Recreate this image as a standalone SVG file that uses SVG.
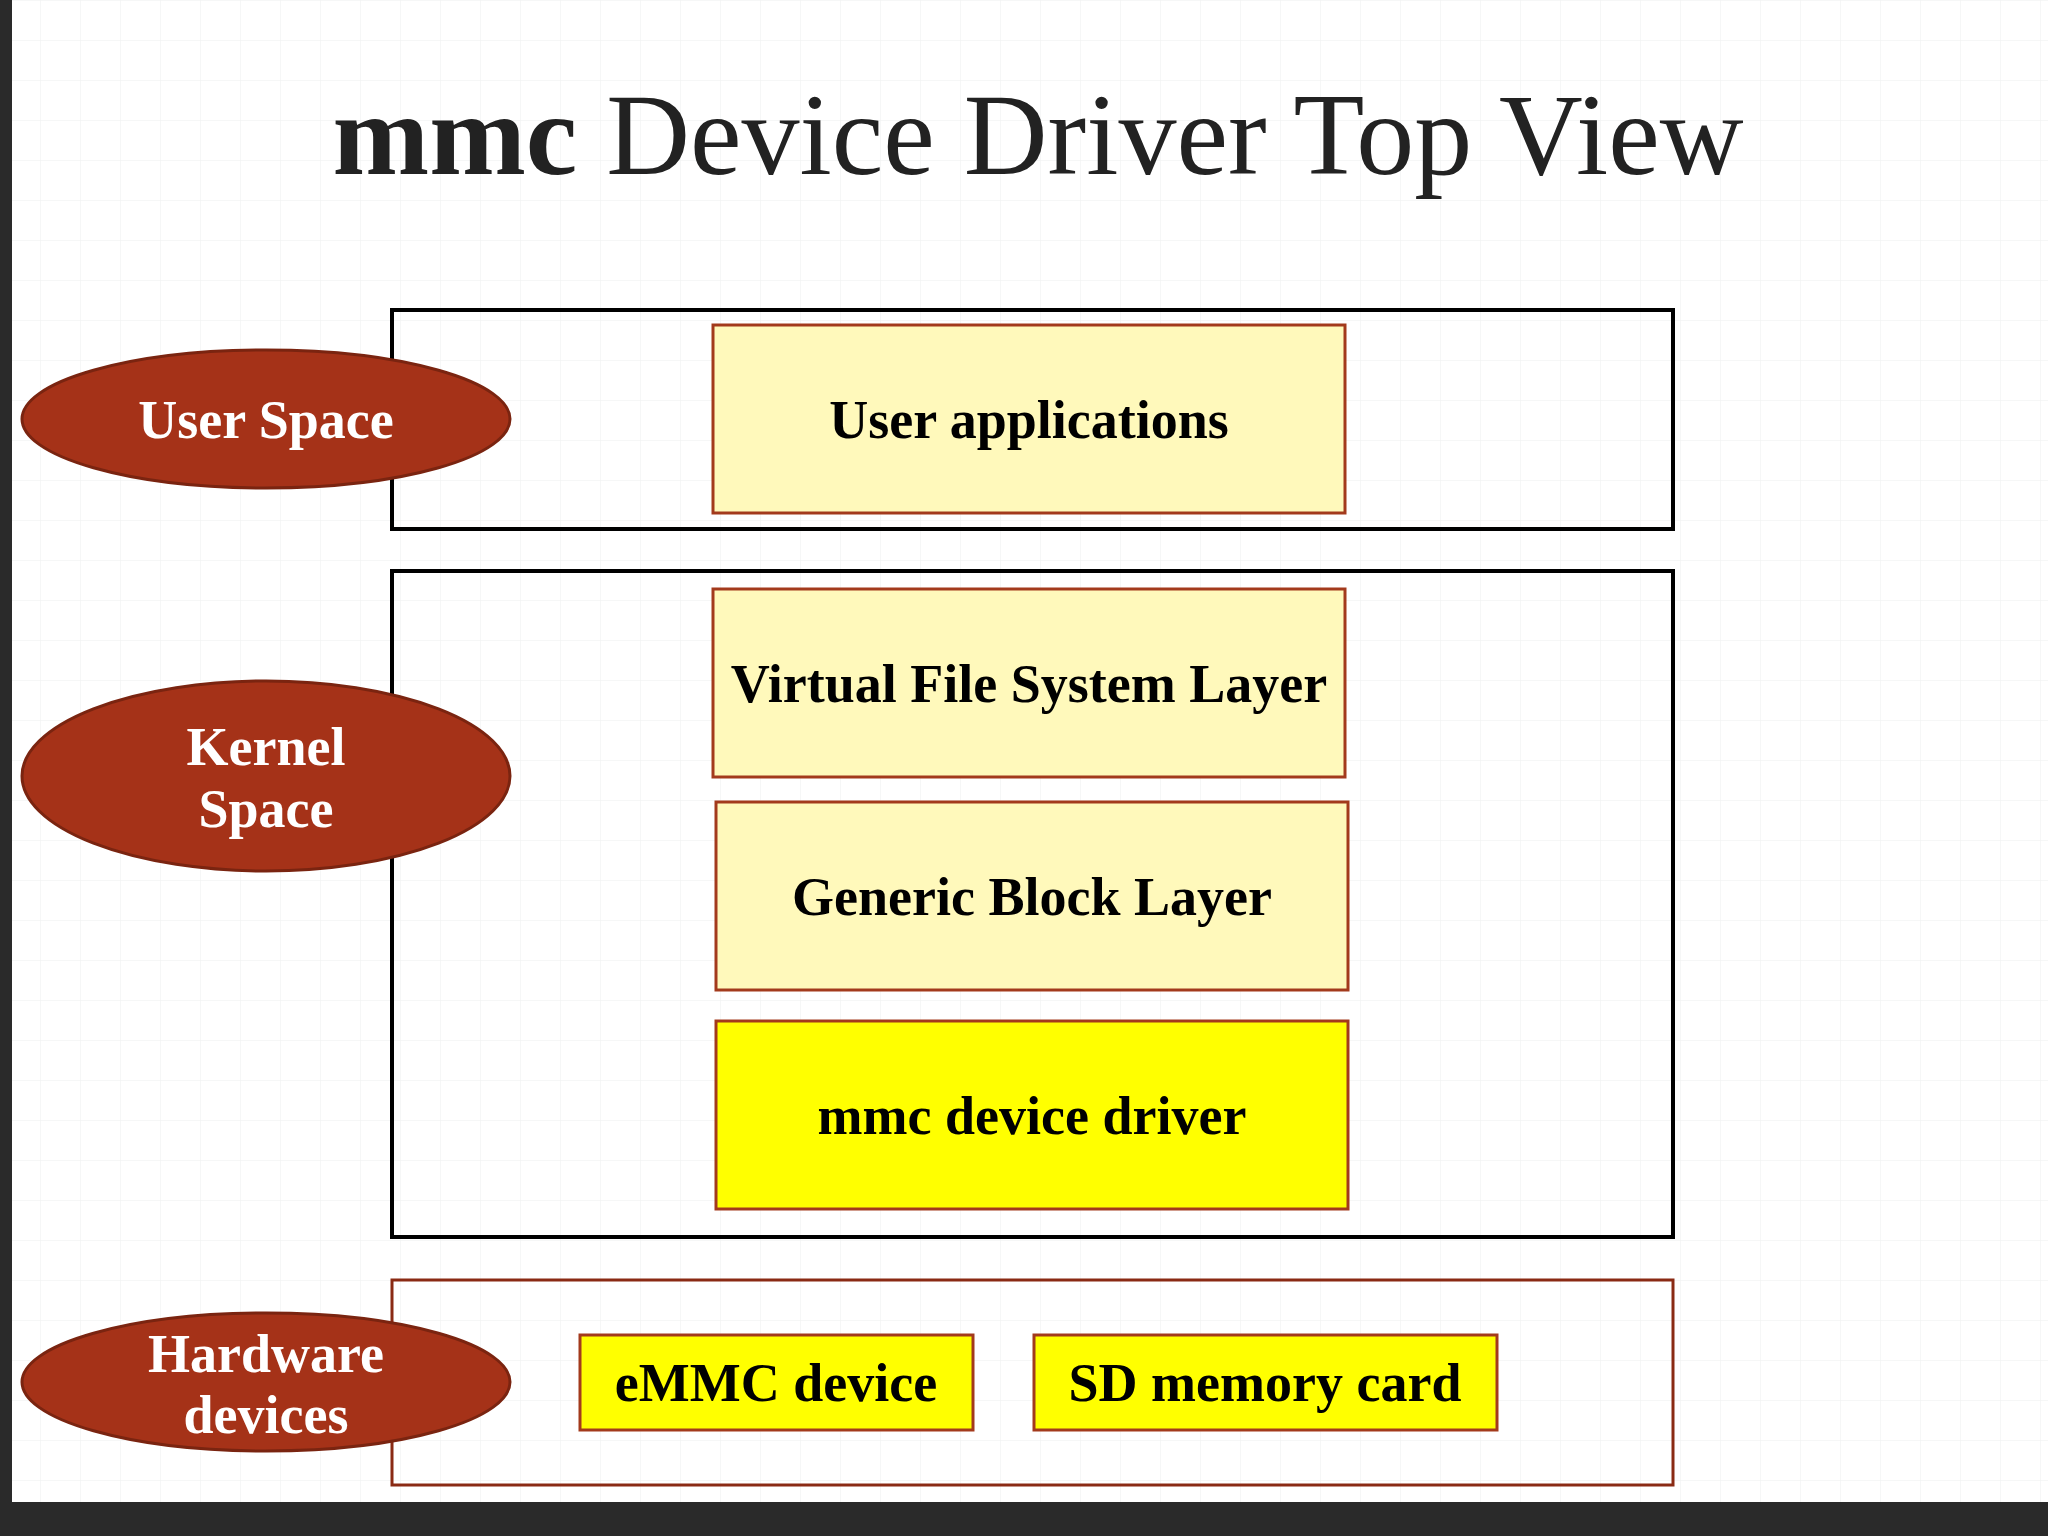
<svg xmlns="http://www.w3.org/2000/svg" width="2048" height="1536" viewBox="0 0 2048 1536">
<style>
.frame{fill:none;stroke:#000;stroke-width:4}
.pale{fill:#fff9bb;stroke:#a33a1c;stroke-width:3}
.bright{fill:#ffff00;stroke:#a33a1c;stroke-width:3}
.ell{fill:#a53218;stroke:#7a2410;stroke-width:3}
.t{font-family:"Liberation Serif","DejaVu Serif",serif;font-weight:bold;font-size:54px;text-anchor:middle;fill:#000}
.w{font-family:"Liberation Serif","DejaVu Serif",serif;font-weight:bold;font-size:54px;text-anchor:middle;fill:#fff}
</style>
<defs>
<pattern id="grid" width="40" height="40" patternUnits="userSpaceOnUse"><path d="M40 0H0V40" fill="none" stroke="#eef0f0" stroke-width="1"/></pattern>
</defs>
<rect width="2048" height="1536" fill="#fff"/>
<rect width="2048" height="1536" fill="url(#grid)"/>
<rect x="0" y="0" width="12" height="1536" fill="#2a2a2a"/>
<rect x="0" y="1502" width="2048" height="34" fill="#2a2a2a"/>
<text x="1038" y="174" font-family="Liberation Serif,DejaVu Serif,serif" font-size="116" text-anchor="middle" fill="#222"><tspan font-weight="bold">mmc</tspan> Device Driver Top View</text>
<g id="user-frame"><rect class="frame" x="392" y="310" width="1281" height="219"/></g>
<g id="kernel-frame"><rect class="frame" x="392" y="571" width="1281" height="666"/></g>
<g id="hw-frame"><rect x="392" y="1280" width="1281" height="205" fill="none" stroke="#8a2a14" stroke-width="3"/></g>
<g id="user-apps"><rect class="pale" x="713" y="325" width="632" height="188"/><text class="t" x="1029" y="438">User applications</text></g>
<g id="vfs"><rect class="pale" x="713" y="589" width="632" height="188"/><text class="t" x="1029" y="702">Virtual File System Layer</text></g>
<g id="gbl"><rect class="pale" x="716" y="802" width="632" height="188"/><text class="t" x="1032" y="915">Generic Block  Layer</text></g>
<g id="mmc"><rect class="bright" x="716" y="1021" width="632" height="188"/><text class="t" x="1032" y="1134">mmc device driver</text></g>
<g id="emmc"><rect class="bright" x="580" y="1335" width="393" height="95"/><text class="t" x="776" y="1401">eMMC device</text></g>
<g id="sd"><rect class="bright" x="1034" y="1335" width="463" height="95"/><text class="t" x="1265" y="1401">SD memory card</text></g>
<g id="user-space"><ellipse class="ell" cx="266" cy="419" rx="244" ry="69"/><text class="w" x="266" y="438">User Space</text></g>
<g id="kernel-space"><ellipse class="ell" cx="266" cy="776" rx="244" ry="95"/><text class="w" x="266" y="765">Kernel</text><text class="w" x="266" y="827">Space</text></g>
<g id="hardware"><ellipse class="ell" cx="266" cy="1382" rx="244" ry="69"/><text class="w" x="266" y="1372">Hardware</text><text class="w" x="266" y="1433">devices</text></g>
<g id="connectors"/>
</svg>
